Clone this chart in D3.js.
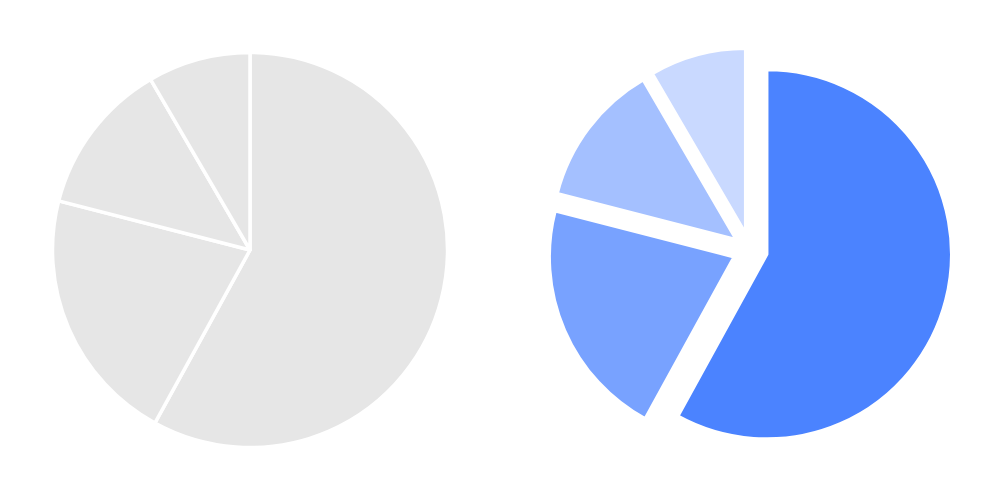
<!DOCTYPE html>
<html>
<head>
<meta charset="utf-8">
<script src="https://cdn.jsdelivr.net/npm/d3@7"></script>
<style>
  html, body { margin: 0; padding: 0; background: #ffffff; }
  svg { display: block; }
</style>
</head>
<body>
<svg id="chart" width="1000" height="500"></svg>
<script>
// Data
const categories = ["A", "B", "C", "D"];
const values = [58, 21, 12.6, 8.4];
const grayColors = ["#e6e6e6", "#e6e6e6", "#e6e6e6", "#e6e6e6"];
const blueColors = ["#4b83ff", "#78a2ff", "#a4c0ff", "#c9d9ff"];

const svg = d3.select("#chart");
const data = categories.map((c, i) => ({ cat: c, value: values[i] }));

const pie = d3.pie().value(d => d.value).sort(null);
const arcs = pie(data);

// Left pie (plain)
const leftR = 197.5;
const arcL = d3.arc().innerRadius(0).outerRadius(leftR);
const gL = svg.append("g").attr("transform", "translate(250,250)");
gL.selectAll("path")
  .data(arcs)
  .join("path")
  .attr("d", arcL)
  .attr("fill", (d, i) => grayColors[i])
  .attr("stroke", "#ffffff")
  .attr("stroke-width", 3.5)
  .attr("stroke-linejoin", "round");

// Right pie (exploded)
const rightR = 184.5;
const offset = 17.5;
const arcR = d3.arc().innerRadius(0).outerRadius(rightR);
const gR = svg.append("g").attr("transform", "translate(750,250)");
gR.selectAll("path")
  .data(arcs)
  .join("path")
  .attr("d", arcR)
  .attr("fill", (d, i) => blueColors[i])
  .attr("stroke", "#ffffff")
  .attr("stroke-width", 3)
  .attr("stroke-linejoin", "round")
  .attr("transform", d => {
    const mid = (d.startAngle + d.endAngle) / 2;
    return `translate(${Math.sin(mid) * offset},${-Math.cos(mid) * offset})`;
  });
</script>
</body>
</html>
